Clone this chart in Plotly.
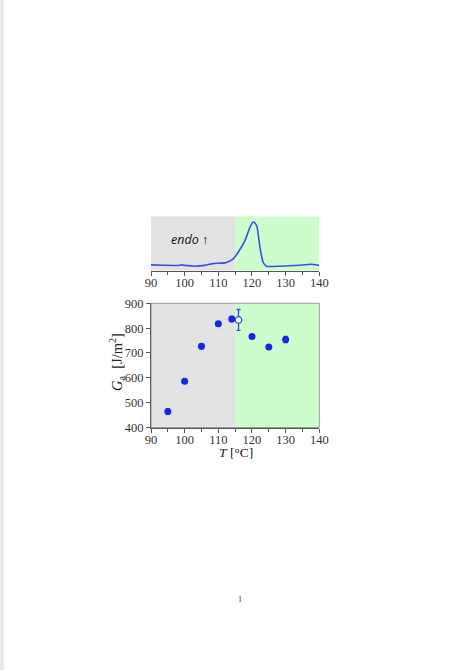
import plotly.graph_objects as go

# DSC curve (temperature in °C, heat flow arbitrary units, endo up)
dsc_T = [90, 94, 98.1, 99, 100, 103.1, 106, 108, 110, 112, 113.3, 114.4, 115.9, 117.9, 119.4, 120.4,
         121.4, 122.3, 123.3, 124.3, 126, 127.8, 130, 132.7, 135, 137.7, 139, 140]
dsc_Q = [0.104, 0.098, 0.092, 0.105, 0.095, 0.08, 0.095, 0.123, 0.135, 0.141, 0.17, 0.215, 0.337, 0.552, 0.798, 0.902,
         0.828, 0.46, 0.153, 0.08, 0.075, 0.078, 0.082, 0.092, 0.102, 0.115, 0.105, 0.095]

# Adhesion energy G_a vs temperature
Ga_T = [95, 100, 105, 110, 114, 120, 125, 130]
Ga_val = [464, 586, 727, 818, 837, 766, 724, 754]
Ga_err = [10, 6, 10, 6, 10, 6, 6, 12]

open_T = [116]
open_val = [833]
open_err = [42]

split_T = 115
x_range = [90, 140]
y_range = [400, 900]
x_ticks = [90, 100, 110, 120, 130, 140]
y_ticks = [400, 500, 600, 700, 800, 900]

W, H = 474, 670
def px_x(p): return p / W
def px_y(p): return 1 - p / H

blue = "#1426e6"
serif = "Liberation Serif"

fig = go.Figure()

fig.add_trace(go.Scatter(x=dsc_T, y=dsc_Q, mode="lines", line=dict(color="#3a4fe0", width=1.6, shape="spline", smoothing=0.6),
                         xaxis="x", yaxis="y", showlegend=False, hoverinfo="skip"))

fig.add_trace(go.Scatter(x=Ga_T, y=Ga_val, mode="markers",
                         marker=dict(color=blue, size=7),
                         error_y=dict(type="data", array=Ga_err, color=blue, thickness=1.5, width=2),
                         xaxis="x2", yaxis="y2", showlegend=False))
fig.add_trace(go.Scatter(x=open_T, y=open_val, mode="markers",
                         marker=dict(color="white", size=6.5, line=dict(color="#2f4fc8", width=1.3)),
                         error_y=dict(type="data", array=open_err, color="#2f4fc8", thickness=1.3, width=2),
                         xaxis="x2", yaxis="y2", showlegend=False))

xdom = [px_x(151), px_x(319.3)]
common_x = dict(range=x_range, domain=xdom, tickvals=x_ticks, ticks="outside", ticklen=4, tickwidth=1,
                tickcolor="#555", showline=True, linecolor="#555", linewidth=1, showgrid=False, zeroline=False,
                automargin=False, ticklabelstandoff=-4,
                tickfont=dict(family=serif, size=12.5, color="#333"),
                minor=dict(dtick=5, tick0=90, ticks="outside", ticklen=3, tickcolor="#555"))

shapes = [
    dict(type="rect", xref="paper", yref="paper", x0=0, x1=px_x(4), y0=0, y1=1, fillcolor="#e9e9e9", line=dict(width=0), layer="below"),
    dict(type="rect", xref="x", yref="y domain", x0=90, x1=split_T, y0=0, y1=1, fillcolor="#e3e3e3", line=dict(width=0), layer="below"),
    dict(type="rect", xref="x", yref="y domain", x0=split_T, x1=140, y0=0, y1=1, fillcolor="#cdfccd", line=dict(width=0), layer="below"),
    dict(type="rect", xref="x2", yref="y2 domain", x0=90, x1=split_T, y0=0, y1=1, fillcolor="#e3e3e3", line=dict(width=0), layer="below"),
    dict(type="rect", xref="x2", yref="y2 domain", x0=split_T, x1=140, y0=0, y1=1, fillcolor="#cdfccd", line=dict(width=0), layer="below"),
    dict(type="rect", xref="x2 domain", yref="y2 domain", x0=0, x1=1, y0=0, y1=1, line=dict(color="#9a9a9a", width=1), layer="below"),
]

annotations = [
    dict(text="<i>endo</i> ↑", x=101.5, y=0.58, xref="x", yref="y", showarrow=False,
         xanchor="center", yanchor="middle",
         font=dict(family="Open Sans", size=12.5, color="#111")),
    dict(text="<i>T</i>\u00a0[°C]", x=px_x(236), y=px_y(452), xref="paper", yref="paper", showarrow=False,
         xanchor="center", yanchor="middle",
         font=dict(family=serif, size=13.5, color="#222")),
    dict(text="<i>G</i><sub>a</sub>\u00a0\u00a0[J/m<sup>2</sup>]", x=px_x(117), y=px_y(362), xref="paper", yref="paper",
         xanchor="center", yanchor="middle",
         showarrow=False, textangle=-90, font=dict(family=serif, size=14.5, color="#222")),
    dict(text="1", x=px_x(240), y=px_y(599), xref="paper", yref="paper", showarrow=False,
         xanchor="center", yanchor="middle",
         font=dict(family=serif, size=8, color="#333")),
]

fig.update_layout(
    width=W, height=H, margin=dict(l=0, r=0, t=0, b=0, pad=0, autoexpand=False),
    paper_bgcolor="white", plot_bgcolor="rgba(0,0,0,0)",
    xaxis=dict(**common_x, anchor="y"),
    yaxis=dict(range=[0, 1], domain=[px_y(270.5), px_y(216.5)], visible=False, anchor="x", automargin=False),
    xaxis2=dict(**common_x, anchor="y2"),
    yaxis2=dict(range=y_range, domain=[px_y(427.5), px_y(303.3)], tickvals=y_ticks, ticks="outside", ticklen=4,
                tickcolor="#555", showline=True, linecolor="#555", linewidth=1, showgrid=False, zeroline=False,
                automargin=False,
                tickfont=dict(family=serif, size=12.5, color="#333"), anchor="x2"),
    shapes=shapes, annotations=annotations,
)

fig.write_html("out.html", post_script="document.body.style.margin='0';", config={"displayModeBar": False})
